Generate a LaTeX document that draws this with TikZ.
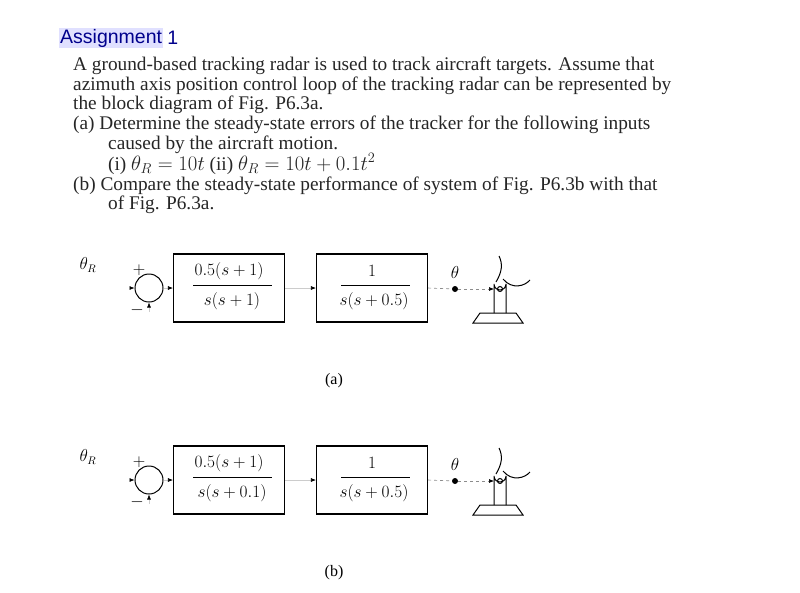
\documentclass[tikz,border=0pt]{standalone}
\usepackage{fontspec}
\setmainfont{Liberation Serif}
\newfontfamily\hdfont{Liberation Sans}
\usetikzlibrary{arrows.meta}
\begin{document}
\begin{tikzpicture}[x=1pt,y=-1pt,
  txt/.style={anchor=west,inner sep=0pt,font=\fontsize{19.3}{20}\selectfont,text=black!85},
  blk/.style={draw,line width=1.1pt,minimum width=111pt,minimum height=68pt,inner sep=0pt},
  sumc/.style={draw,circle,line width=1pt,minimum size=28pt,inner sep=0pt},
  lbl/.style={inner sep=0pt,font=\fontsize{16}{18}\selectfont},
  conn/.style={draw=black!20,line width=0.6pt,-{Latex[length=5pt,width=4pt,black]}},
  dconn/.style={draw=black!45,dashed,line width=0.6pt},
  part/.style={line width=1pt}]
\useasboundingbox[fill=white] (0,0) rectangle (800,592);
\node[anchor=west,inner sep=1pt,fill=blue!12,font=\hdfont\fontsize{19.5}{21}\selectfont,text=blue!55!black] (hd) at (59,38) {Assignment};
\node[anchor=west,inner sep=1pt,font=\hdfont\fontsize{19.5}{21}\selectfont,text=blue!55!black] (hd1) at ([xshift=3pt]hd.east) {1};
\node[txt] (l1) at (73,66) {A ground-based tracking radar is used to track aircraft targets. Assume that};
\node[txt] (l2) at (73,86) {azimuth axis position control loop of the tracking radar can be represented by};
\node[txt] (l3) at (73,105) {the block diagram of Fig. P6.3a.};
\node[txt] (l4) at (73,125) {(a) Determine the steady-state errors of the tracker for the following inputs};
\node[txt] (l5) at (108,145) {caused by the aircraft motion.};
\node[txt] (l6) at (108,164) {(i) $\theta_R=10t$ (ii) $\theta_R=10t+0.1t^2$};
\node[txt] (l7) at (73,186) {(b) Compare the steady-state performance of system of Fig. P6.3b with that};
\node[txt] (l8) at (108,205) {of Fig. P6.3a.};

\foreach \nm/\dy/\den/\cpt in {a/0/{s(s+1)}/(a), b/192/{s(s+0.1)}/(b)}{
\begin{scope}[yshift=-\dy pt]
\node[lbl] (thr\nm) at (88,265) {$\theta_R$};
\node[sumc] (sum\nm) at (149,288) {};
\node[lbl] (pl\nm) at (139,270) {$+$};
\node[lbl] (mi\nm) at (137,310) {$-$};
\coordinate (inl\nm) at (132,288);
\coordinate (inb\nm) at (149,312);
\draw[conn] (inl\nm) -- (sum\nm.west);
\draw[conn] (inb\nm) -- (sum\nm.south);
\node[blk] (g1\nm) at (229,288) {};
\node[lbl] (n1\nm) at (229,271) {$0.5(s+1)$};
\draw[line width=0.9pt] (193,285) -- (272,285);
\node[lbl] (d1\nm) at (232,301) {$\den$};
\node[blk] (g2\nm) at (372,288) {};
\node[lbl] (n2\nm) at (372,271) {$1$};
\draw[line width=0.9pt] (341,285) -- (410,285);
\node[lbl] (d2\nm) at (374,301) {$s(s+0.5)$};
\draw[conn] (sum\nm.east) -- (g1\nm.west);
\draw[conn] (g1\nm.east) -- (g2\nm.west);
\node[circle,fill,inner sep=0pt,minimum size=6pt] (dot\nm) at (455,289) {};
\node[lbl] (th\nm) at (455,272) {$\theta$};
\draw[dconn] (g2\nm.east) -- (dot\nm);
\coordinate (rad\nm) at (494,289);
\draw[dconn,-{Latex[length=5pt,width=4pt,black]}] (dot\nm) -- (rad\nm);
\draw[part] (473,323) -- (480,313) -- (516,313) -- (523,323) -- cycle;
\draw[part] (494,313) -- (494,284) arc (180:0:6) -- (506,313);
\draw[part] (500,289) circle (2.5);
\draw[part] (496,282) .. controls (502,272) and (503,264) .. (499,256);
\draw[part] (503,279) .. controls (512,290) and (525,286) .. (530,280);
\node[lbl] (cap\nm) at (334,381) {\cpt};
\end{scope}}
\end{tikzpicture}
\end{document}
